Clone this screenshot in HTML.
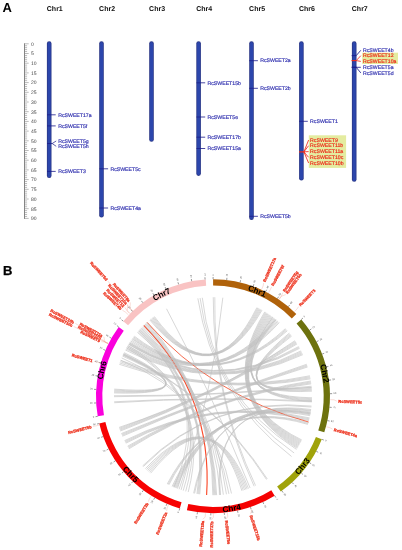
<!DOCTYPE html>
<html><head><meta charset="utf-8"><style>
html,body{margin:0;padding:0;background:#fff;}
svg{display:block;font-family:"Liberation Sans",Arial,sans-serif;text-rendering:geometricPrecision;}
</style></head><body>
<svg width="402" height="550" viewBox="0 0 402 550">
<text x="2.4" y="11.9" font-size="13" font-weight="bold" fill="#000">A</text>
<text x="46.8" y="11.3" font-size="7" font-weight="bold" fill="#111">Chr1</text>
<line x1="49.2" y1="43.599999999999994" x2="49.2" y2="175.748" stroke="#2b3888" stroke-width="4.6" stroke-linecap="round"/>
<line x1="49.2" y1="43.599999999999994" x2="49.2" y2="175.748" stroke="#2c46ac" stroke-width="3.0" stroke-linecap="round"/>
<text x="99.1" y="11.3" font-size="7" font-weight="bold" fill="#111">Chr2</text>
<line x1="101.5" y1="43.599999999999994" x2="101.5" y2="215.13" stroke="#2b3888" stroke-width="4.6" stroke-linecap="round"/>
<line x1="101.5" y1="43.599999999999994" x2="101.5" y2="215.13" stroke="#2c46ac" stroke-width="3.0" stroke-linecap="round"/>
<text x="149.1" y="11.3" font-size="7" font-weight="bold" fill="#111">Chr3</text>
<line x1="151.5" y1="43.599999999999994" x2="151.5" y2="139.46999999999997" stroke="#2b3888" stroke-width="4.6" stroke-linecap="round"/>
<line x1="151.5" y1="43.599999999999994" x2="151.5" y2="139.46999999999997" stroke="#2c46ac" stroke-width="3.0" stroke-linecap="round"/>
<text x="196.2" y="11.3" font-size="7" font-weight="bold" fill="#111">Chr4</text>
<line x1="198.6" y1="43.599999999999994" x2="198.6" y2="173.61399999999998" stroke="#2b3888" stroke-width="4.6" stroke-linecap="round"/>
<line x1="198.6" y1="43.599999999999994" x2="198.6" y2="173.61399999999998" stroke="#2c46ac" stroke-width="3.0" stroke-linecap="round"/>
<text x="249.1" y="11.3" font-size="7" font-weight="bold" fill="#111">Chr5</text>
<line x1="251.5" y1="43.599999999999994" x2="251.5" y2="217.652" stroke="#2b3888" stroke-width="4.6" stroke-linecap="round"/>
<line x1="251.5" y1="43.599999999999994" x2="251.5" y2="217.652" stroke="#2c46ac" stroke-width="3.0" stroke-linecap="round"/>
<text x="299.0" y="11.3" font-size="7" font-weight="bold" fill="#111">Chr6</text>
<line x1="301.4" y1="43.599999999999994" x2="301.4" y2="178.26999999999998" stroke="#2b3888" stroke-width="4.6" stroke-linecap="round"/>
<line x1="301.4" y1="43.599999999999994" x2="301.4" y2="178.26999999999998" stroke="#2c46ac" stroke-width="3.0" stroke-linecap="round"/>
<text x="351.8" y="11.3" font-size="7" font-weight="bold" fill="#111">Chr7</text>
<line x1="354.2" y1="43.599999999999994" x2="354.2" y2="179.43399999999997" stroke="#2b3888" stroke-width="4.6" stroke-linecap="round"/>
<line x1="354.2" y1="43.599999999999994" x2="354.2" y2="179.43399999999997" stroke="#2c46ac" stroke-width="3.0" stroke-linecap="round"/>
<line x1="24.5" y1="43.3" x2="24.5" y2="218.89999999999998" stroke="#707070" stroke-width="0.85"/>
<line x1="24.5" y1="43.80" x2="28.7" y2="43.80" stroke="#808080" stroke-width="0.55"/>
<text x="31" y="45.60" font-size="5" fill="#444">0</text>
<line x1="24.5" y1="45.74" x2="27.1" y2="45.74" stroke="#808080" stroke-width="0.55"/>
<line x1="24.5" y1="47.68" x2="27.1" y2="47.68" stroke="#808080" stroke-width="0.55"/>
<line x1="24.5" y1="49.62" x2="27.1" y2="49.62" stroke="#808080" stroke-width="0.55"/>
<line x1="24.5" y1="51.56" x2="27.1" y2="51.56" stroke="#808080" stroke-width="0.55"/>
<line x1="24.5" y1="53.50" x2="28.7" y2="53.50" stroke="#808080" stroke-width="0.55"/>
<text x="31" y="55.30" font-size="5" fill="#444">5</text>
<line x1="24.5" y1="55.44" x2="27.1" y2="55.44" stroke="#808080" stroke-width="0.55"/>
<line x1="24.5" y1="57.38" x2="27.1" y2="57.38" stroke="#808080" stroke-width="0.55"/>
<line x1="24.5" y1="59.32" x2="27.1" y2="59.32" stroke="#808080" stroke-width="0.55"/>
<line x1="24.5" y1="61.26" x2="27.1" y2="61.26" stroke="#808080" stroke-width="0.55"/>
<line x1="24.5" y1="63.20" x2="28.7" y2="63.20" stroke="#808080" stroke-width="0.55"/>
<text x="31" y="65.00" font-size="5" fill="#444">10</text>
<line x1="24.5" y1="65.14" x2="27.1" y2="65.14" stroke="#808080" stroke-width="0.55"/>
<line x1="24.5" y1="67.08" x2="27.1" y2="67.08" stroke="#808080" stroke-width="0.55"/>
<line x1="24.5" y1="69.02" x2="27.1" y2="69.02" stroke="#808080" stroke-width="0.55"/>
<line x1="24.5" y1="70.96" x2="27.1" y2="70.96" stroke="#808080" stroke-width="0.55"/>
<line x1="24.5" y1="72.90" x2="28.7" y2="72.90" stroke="#808080" stroke-width="0.55"/>
<text x="31" y="74.70" font-size="5" fill="#444">15</text>
<line x1="24.5" y1="74.84" x2="27.1" y2="74.84" stroke="#808080" stroke-width="0.55"/>
<line x1="24.5" y1="76.78" x2="27.1" y2="76.78" stroke="#808080" stroke-width="0.55"/>
<line x1="24.5" y1="78.72" x2="27.1" y2="78.72" stroke="#808080" stroke-width="0.55"/>
<line x1="24.5" y1="80.66" x2="27.1" y2="80.66" stroke="#808080" stroke-width="0.55"/>
<line x1="24.5" y1="82.60" x2="28.7" y2="82.60" stroke="#808080" stroke-width="0.55"/>
<text x="31" y="84.40" font-size="5" fill="#444">20</text>
<line x1="24.5" y1="84.54" x2="27.1" y2="84.54" stroke="#808080" stroke-width="0.55"/>
<line x1="24.5" y1="86.48" x2="27.1" y2="86.48" stroke="#808080" stroke-width="0.55"/>
<line x1="24.5" y1="88.42" x2="27.1" y2="88.42" stroke="#808080" stroke-width="0.55"/>
<line x1="24.5" y1="90.36" x2="27.1" y2="90.36" stroke="#808080" stroke-width="0.55"/>
<line x1="24.5" y1="92.30" x2="28.7" y2="92.30" stroke="#808080" stroke-width="0.55"/>
<text x="31" y="94.10" font-size="5" fill="#444">25</text>
<line x1="24.5" y1="94.24" x2="27.1" y2="94.24" stroke="#808080" stroke-width="0.55"/>
<line x1="24.5" y1="96.18" x2="27.1" y2="96.18" stroke="#808080" stroke-width="0.55"/>
<line x1="24.5" y1="98.12" x2="27.1" y2="98.12" stroke="#808080" stroke-width="0.55"/>
<line x1="24.5" y1="100.06" x2="27.1" y2="100.06" stroke="#808080" stroke-width="0.55"/>
<line x1="24.5" y1="102.00" x2="28.7" y2="102.00" stroke="#808080" stroke-width="0.55"/>
<text x="31" y="103.80" font-size="5" fill="#444">30</text>
<line x1="24.5" y1="103.94" x2="27.1" y2="103.94" stroke="#808080" stroke-width="0.55"/>
<line x1="24.5" y1="105.88" x2="27.1" y2="105.88" stroke="#808080" stroke-width="0.55"/>
<line x1="24.5" y1="107.82" x2="27.1" y2="107.82" stroke="#808080" stroke-width="0.55"/>
<line x1="24.5" y1="109.76" x2="27.1" y2="109.76" stroke="#808080" stroke-width="0.55"/>
<line x1="24.5" y1="111.70" x2="28.7" y2="111.70" stroke="#808080" stroke-width="0.55"/>
<text x="31" y="113.50" font-size="5" fill="#444">35</text>
<line x1="24.5" y1="113.64" x2="27.1" y2="113.64" stroke="#808080" stroke-width="0.55"/>
<line x1="24.5" y1="115.58" x2="27.1" y2="115.58" stroke="#808080" stroke-width="0.55"/>
<line x1="24.5" y1="117.52" x2="27.1" y2="117.52" stroke="#808080" stroke-width="0.55"/>
<line x1="24.5" y1="119.46" x2="27.1" y2="119.46" stroke="#808080" stroke-width="0.55"/>
<line x1="24.5" y1="121.40" x2="28.7" y2="121.40" stroke="#808080" stroke-width="0.55"/>
<text x="31" y="123.20" font-size="5" fill="#444">40</text>
<line x1="24.5" y1="123.34" x2="27.1" y2="123.34" stroke="#808080" stroke-width="0.55"/>
<line x1="24.5" y1="125.28" x2="27.1" y2="125.28" stroke="#808080" stroke-width="0.55"/>
<line x1="24.5" y1="127.22" x2="27.1" y2="127.22" stroke="#808080" stroke-width="0.55"/>
<line x1="24.5" y1="129.16" x2="27.1" y2="129.16" stroke="#808080" stroke-width="0.55"/>
<line x1="24.5" y1="131.10" x2="28.7" y2="131.10" stroke="#808080" stroke-width="0.55"/>
<text x="31" y="132.90" font-size="5" fill="#444">45</text>
<line x1="24.5" y1="133.04" x2="27.1" y2="133.04" stroke="#808080" stroke-width="0.55"/>
<line x1="24.5" y1="134.98" x2="27.1" y2="134.98" stroke="#808080" stroke-width="0.55"/>
<line x1="24.5" y1="136.92" x2="27.1" y2="136.92" stroke="#808080" stroke-width="0.55"/>
<line x1="24.5" y1="138.86" x2="27.1" y2="138.86" stroke="#808080" stroke-width="0.55"/>
<line x1="24.5" y1="140.80" x2="28.7" y2="140.80" stroke="#808080" stroke-width="0.55"/>
<text x="31" y="142.60" font-size="5" fill="#444">50</text>
<line x1="24.5" y1="142.74" x2="27.1" y2="142.74" stroke="#808080" stroke-width="0.55"/>
<line x1="24.5" y1="144.68" x2="27.1" y2="144.68" stroke="#808080" stroke-width="0.55"/>
<line x1="24.5" y1="146.62" x2="27.1" y2="146.62" stroke="#808080" stroke-width="0.55"/>
<line x1="24.5" y1="148.56" x2="27.1" y2="148.56" stroke="#808080" stroke-width="0.55"/>
<line x1="24.5" y1="150.50" x2="28.7" y2="150.50" stroke="#808080" stroke-width="0.55"/>
<text x="31" y="152.30" font-size="5" fill="#444">55</text>
<line x1="24.5" y1="152.44" x2="27.1" y2="152.44" stroke="#808080" stroke-width="0.55"/>
<line x1="24.5" y1="154.38" x2="27.1" y2="154.38" stroke="#808080" stroke-width="0.55"/>
<line x1="24.5" y1="156.32" x2="27.1" y2="156.32" stroke="#808080" stroke-width="0.55"/>
<line x1="24.5" y1="158.26" x2="27.1" y2="158.26" stroke="#808080" stroke-width="0.55"/>
<line x1="24.5" y1="160.20" x2="28.7" y2="160.20" stroke="#808080" stroke-width="0.55"/>
<text x="31" y="162.00" font-size="5" fill="#444">60</text>
<line x1="24.5" y1="162.14" x2="27.1" y2="162.14" stroke="#808080" stroke-width="0.55"/>
<line x1="24.5" y1="164.08" x2="27.1" y2="164.08" stroke="#808080" stroke-width="0.55"/>
<line x1="24.5" y1="166.02" x2="27.1" y2="166.02" stroke="#808080" stroke-width="0.55"/>
<line x1="24.5" y1="167.96" x2="27.1" y2="167.96" stroke="#808080" stroke-width="0.55"/>
<line x1="24.5" y1="169.90" x2="28.7" y2="169.90" stroke="#808080" stroke-width="0.55"/>
<text x="31" y="171.70" font-size="5" fill="#444">65</text>
<line x1="24.5" y1="171.84" x2="27.1" y2="171.84" stroke="#808080" stroke-width="0.55"/>
<line x1="24.5" y1="173.78" x2="27.1" y2="173.78" stroke="#808080" stroke-width="0.55"/>
<line x1="24.5" y1="175.72" x2="27.1" y2="175.72" stroke="#808080" stroke-width="0.55"/>
<line x1="24.5" y1="177.66" x2="27.1" y2="177.66" stroke="#808080" stroke-width="0.55"/>
<line x1="24.5" y1="179.60" x2="28.7" y2="179.60" stroke="#808080" stroke-width="0.55"/>
<text x="31" y="181.40" font-size="5" fill="#444">70</text>
<line x1="24.5" y1="181.54" x2="27.1" y2="181.54" stroke="#808080" stroke-width="0.55"/>
<line x1="24.5" y1="183.48" x2="27.1" y2="183.48" stroke="#808080" stroke-width="0.55"/>
<line x1="24.5" y1="185.42" x2="27.1" y2="185.42" stroke="#808080" stroke-width="0.55"/>
<line x1="24.5" y1="187.36" x2="27.1" y2="187.36" stroke="#808080" stroke-width="0.55"/>
<line x1="24.5" y1="189.30" x2="28.7" y2="189.30" stroke="#808080" stroke-width="0.55"/>
<text x="31" y="191.10" font-size="5" fill="#444">75</text>
<line x1="24.5" y1="191.24" x2="27.1" y2="191.24" stroke="#808080" stroke-width="0.55"/>
<line x1="24.5" y1="193.18" x2="27.1" y2="193.18" stroke="#808080" stroke-width="0.55"/>
<line x1="24.5" y1="195.12" x2="27.1" y2="195.12" stroke="#808080" stroke-width="0.55"/>
<line x1="24.5" y1="197.06" x2="27.1" y2="197.06" stroke="#808080" stroke-width="0.55"/>
<line x1="24.5" y1="199.00" x2="28.7" y2="199.00" stroke="#808080" stroke-width="0.55"/>
<text x="31" y="200.80" font-size="5" fill="#444">80</text>
<line x1="24.5" y1="200.94" x2="27.1" y2="200.94" stroke="#808080" stroke-width="0.55"/>
<line x1="24.5" y1="202.88" x2="27.1" y2="202.88" stroke="#808080" stroke-width="0.55"/>
<line x1="24.5" y1="204.82" x2="27.1" y2="204.82" stroke="#808080" stroke-width="0.55"/>
<line x1="24.5" y1="206.76" x2="27.1" y2="206.76" stroke="#808080" stroke-width="0.55"/>
<line x1="24.5" y1="208.70" x2="28.7" y2="208.70" stroke="#808080" stroke-width="0.55"/>
<text x="31" y="210.50" font-size="5" fill="#444">85</text>
<line x1="24.5" y1="210.64" x2="27.1" y2="210.64" stroke="#808080" stroke-width="0.55"/>
<line x1="24.5" y1="212.58" x2="27.1" y2="212.58" stroke="#808080" stroke-width="0.55"/>
<line x1="24.5" y1="214.52" x2="27.1" y2="214.52" stroke="#808080" stroke-width="0.55"/>
<line x1="24.5" y1="216.46" x2="27.1" y2="216.46" stroke="#808080" stroke-width="0.55"/>
<line x1="24.5" y1="218.40" x2="28.7" y2="218.40" stroke="#808080" stroke-width="0.55"/>
<text x="31" y="220.20" font-size="5" fill="#444">90</text>
<line x1="47.0" y1="114.8" x2="55.7" y2="114.8" stroke="#1c1c8a" stroke-width="0.8"/>
<text x="58.2" y="116.55" font-size="5.2" fill="#3434b0" stroke="#3434b0" stroke-width="0.18">RcSWEET17a</text>
<line x1="47.0" y1="125.9" x2="55.7" y2="125.9" stroke="#1c1c8a" stroke-width="0.8"/>
<text x="58.2" y="127.65" font-size="5.2" fill="#3434b0" stroke="#3434b0" stroke-width="0.18">RcSWEET5f</text>
<line x1="47.0" y1="171.4" x2="55.7" y2="171.4" stroke="#1c1c8a" stroke-width="0.8"/>
<text x="58.2" y="173.15" font-size="5.2" fill="#3434b0" stroke="#3434b0" stroke-width="0.18">RcSWEET3</text>
<line x1="47.0" y1="143.5" x2="52.2" y2="143.5" stroke="#1c1c8a" stroke-width="0.8"/>
<polyline points="52.2,143.5 56.2,141" fill="none" stroke="#1c1c8a" stroke-width="0.7"/>
<polyline points="52.2,143.5 56.2,146.3" fill="none" stroke="#1c1c8a" stroke-width="0.7"/>
<text x="58.2" y="142.75" font-size="5.2" fill="#3434b0" stroke="#3434b0" stroke-width="0.18">RcSWEET5g</text>
<text x="58.2" y="148.15" font-size="5.2" fill="#3434b0" stroke="#3434b0" stroke-width="0.18">RcSWEET5h</text>
<line x1="99.39999999999999" y1="168.8" x2="108.1" y2="168.8" stroke="#1c1c8a" stroke-width="0.8"/>
<text x="110.4" y="170.55" font-size="5.2" fill="#3434b0" stroke="#3434b0" stroke-width="0.18">RcSWEET5c</text>
<line x1="99.39999999999999" y1="208" x2="108.1" y2="208" stroke="#1c1c8a" stroke-width="0.8"/>
<text x="110.4" y="209.75" font-size="5.2" fill="#3434b0" stroke="#3434b0" stroke-width="0.18">RcSWEET4a</text>
<line x1="196.5" y1="82.8" x2="205.2" y2="82.8" stroke="#1c1c8a" stroke-width="0.8"/>
<text x="207.5" y="84.55" font-size="5.2" fill="#3434b0" stroke="#3434b0" stroke-width="0.18">RcSWEET15b</text>
<line x1="196.5" y1="117" x2="205.2" y2="117" stroke="#1c1c8a" stroke-width="0.8"/>
<text x="207.5" y="118.75" font-size="5.2" fill="#3434b0" stroke="#3434b0" stroke-width="0.18">RcSWEET5e</text>
<line x1="196.5" y1="137.2" x2="205.2" y2="137.2" stroke="#1c1c8a" stroke-width="0.8"/>
<text x="207.5" y="138.95" font-size="5.2" fill="#3434b0" stroke="#3434b0" stroke-width="0.18">RcSWEET17b</text>
<line x1="196.5" y1="148.5" x2="205.2" y2="148.5" stroke="#1c1c8a" stroke-width="0.8"/>
<text x="207.5" y="150.25" font-size="5.2" fill="#3434b0" stroke="#3434b0" stroke-width="0.18">RcSWEET15a</text>
<line x1="249.20000000000002" y1="60.7" x2="257.9" y2="60.7" stroke="#1c1c8a" stroke-width="0.8"/>
<text x="260.2" y="62.45" font-size="5.2" fill="#3434b0" stroke="#3434b0" stroke-width="0.18">RcSWEET2a</text>
<line x1="249.20000000000002" y1="88.3" x2="257.9" y2="88.3" stroke="#1c1c8a" stroke-width="0.8"/>
<text x="260.2" y="90.05" font-size="5.2" fill="#3434b0" stroke="#3434b0" stroke-width="0.18">RcSWEET2b</text>
<line x1="249.20000000000002" y1="216.3" x2="257.9" y2="216.3" stroke="#1c1c8a" stroke-width="0.8"/>
<text x="260.2" y="218.05" font-size="5.2" fill="#3434b0" stroke="#3434b0" stroke-width="0.18">RcSWEET5b</text>
<line x1="299.1" y1="121.3" x2="307.8" y2="121.3" stroke="#1c1c8a" stroke-width="0.8"/>
<text x="310.1" y="123.05" font-size="5.2" fill="#3434b0" stroke="#3434b0" stroke-width="0.18">RcSWEET1</text>
<rect x="308.8" y="135.3" width="37.3" height="32.6" fill="#e4eca0"/>
<line x1="299.0" y1="151.9" x2="304.3" y2="151.9" stroke="#ee2a1a" stroke-width="1.2"/>
<line x1="303.90000000000003" y1="151.9" x2="308.6" y2="140" stroke="#ee2a1a" stroke-width="0.85"/>
<text x="310.1" y="141.75" font-size="5.2" fill="#ee2a1a" stroke="#ee2a1a" stroke-width="0.18">RcSWEET9</text>
<line x1="303.90000000000003" y1="151.9" x2="308.6" y2="145.7" stroke="#ee2a1a" stroke-width="0.85"/>
<text x="310.1" y="147.45" font-size="5.2" fill="#ee2a1a" stroke="#ee2a1a" stroke-width="0.18">RcSWEET11b</text>
<line x1="303.90000000000003" y1="151.9" x2="308.6" y2="151.6" stroke="#ee2a1a" stroke-width="0.85"/>
<text x="310.1" y="153.35" font-size="5.2" fill="#ee2a1a" stroke="#ee2a1a" stroke-width="0.18">RcSWEET11a</text>
<line x1="303.90000000000003" y1="151.9" x2="308.6" y2="157.3" stroke="#ee2a1a" stroke-width="0.85"/>
<text x="310.1" y="159.05" font-size="5.2" fill="#ee2a1a" stroke="#ee2a1a" stroke-width="0.18">RcSWEET10c</text>
<line x1="303.90000000000003" y1="151.9" x2="308.6" y2="163" stroke="#ee2a1a" stroke-width="0.85"/>
<text x="310.1" y="164.75" font-size="5.2" fill="#ee2a1a" stroke="#ee2a1a" stroke-width="0.18">RcSWEET10b</text>
<rect x="362.2" y="52.7" width="35.8" height="11.3" fill="#e4eca0"/>
<line x1="351.7" y1="55.6" x2="356.3" y2="55.6" stroke="#1c1c8a" stroke-width="0.9"/>
<line x1="356.2" y1="55.6" x2="360.8" y2="50.3" stroke="#1c1c8a" stroke-width="0.85"/>
<text x="363.0" y="52.05" font-size="5.2" fill="#3434b0" stroke="#3434b0" stroke-width="0.18">RcSWEET4b</text>
<line x1="351.7" y1="60.6" x2="356.3" y2="60.6" stroke="#ee2a1a" stroke-width="0.9"/>
<line x1="356.2" y1="60.6" x2="360.8" y2="55.7" stroke="#ee2a1a" stroke-width="0.85"/>
<text x="363.0" y="57.45" font-size="5.2" fill="#ee2a1a" stroke="#ee2a1a" stroke-width="0.18">RcSWEET12</text>
<line x1="351.7" y1="60.6" x2="356.3" y2="60.6" stroke="#ee2a1a" stroke-width="0.9"/>
<line x1="356.2" y1="60.6" x2="360.8" y2="61.4" stroke="#ee2a1a" stroke-width="0.85"/>
<text x="363.0" y="63.15" font-size="5.2" fill="#ee2a1a" stroke="#ee2a1a" stroke-width="0.18">RcSWEET10a</text>
<line x1="351.7" y1="67.3" x2="356.3" y2="67.3" stroke="#1c1c8a" stroke-width="0.9"/>
<line x1="356.2" y1="67.3" x2="360.8" y2="67.3" stroke="#1c1c8a" stroke-width="0.85"/>
<text x="363.0" y="69.05" font-size="5.2" fill="#3434b0" stroke="#3434b0" stroke-width="0.18">RcSWEET5a</text>
<line x1="351.7" y1="67.3" x2="356.3" y2="67.3" stroke="#1c1c8a" stroke-width="0.9"/>
<line x1="356.2" y1="67.3" x2="360.8" y2="72.9" stroke="#1c1c8a" stroke-width="0.85"/>
<text x="363.0" y="74.65" font-size="5.2" fill="#3434b0" stroke="#3434b0" stroke-width="0.18">RcSWEET5d</text>
<text x="3.0" y="274.7" font-size="13" font-weight="bold" fill="#000" stroke="#000" stroke-width="0.3">B</text>
<g fill="none" stroke="#c0c0c0" stroke-width="0.62"><path d="M139.05,330.37 Q213.00,396.20 196.96,493.89"/><path d="M140.33,328.97 Q213.00,396.20 198.84,494.18"/><path d="M140.98,328.27 Q213.00,396.20 199.78,494.31"/><path d="M145.17,324.09 Q213.00,396.20 213.78,495.20"/><path d="M145.86,323.44 Q213.00,396.20 214.73,495.18"/><path d="M147.27,322.17 Q213.00,396.20 216.63,495.13"/><path d="M149.83,319.97 Q213.00,396.20 261.98,310.16"/><path d="M151.30,318.78 Q213.00,396.20 260.31,309.24"/><path d="M152.05,318.19 Q213.00,396.20 259.48,308.79"/><path d="M153.56,317.03 Q213.00,396.20 257.79,307.91"/><path d="M154.32,316.46 Q213.00,396.20 256.94,307.49"/><path d="M197.85,298.37 Q213.00,396.20 291.54,456.47"/><path d="M200.08,298.05 Q213.00,396.20 294.10,452.98"/><path d="M213.26,297.20 Q213.00,396.20 254.13,486.25"/><path d="M214.81,297.22 Q213.00,396.20 255.54,485.59"/><path d="M264.80,311.83 Q213.00,396.20 297.18,448.30"/><path d="M265.61,312.33 Q213.00,396.20 297.68,447.48"/><path d="M267.21,313.36 Q213.00,396.20 298.65,445.85"/><path d="M268.00,313.88 Q213.00,396.20 299.12,445.03"/><path d="M269.57,314.96 Q213.00,396.20 300.04,443.36"/><path d="M270.35,315.50 Q213.00,396.20 300.49,442.53"/><path d="M271.89,316.62 Q213.00,396.20 301.37,440.84"/><path d="M272.65,317.19 Q213.00,396.20 301.79,439.99"/><path d="M276.10,319.92 Q213.00,396.20 131.46,340.05"/><path d="M276.90,320.58 Q213.00,396.20 130.78,341.05"/><path d="M278.47,321.94 Q213.00,396.20 129.46,343.08"/><path d="M279.24,322.63 Q213.00,396.20 128.82,344.10"/><path d="M289.88,333.83 Q213.00,396.20 311.82,390.24"/><path d="M290.48,334.57 Q213.00,396.20 311.76,389.29"/><path d="M291.65,336.07 Q213.00,396.20 311.61,387.40"/><path d="M272.86,317.34 Q213.00,396.20 311.86,401.55"/><path d="M274.36,318.51 Q213.00,396.20 311.94,399.66"/><path d="M275.10,319.10 Q213.00,396.20 311.97,398.71"/><path d="M285.37,328.65 Q213.00,396.20 134.27,336.17"/><path d="M286.02,329.35 Q213.00,396.20 133.70,336.93"/><path d="M287.29,330.76 Q213.00,396.20 132.58,338.46"/><path d="M298.69,346.63 Q213.00,396.20 129.55,342.93"/><path d="M299.63,348.28 Q213.00,396.20 128.54,344.55"/><path d="M294.98,340.70 Q213.00,396.20 119.06,427.45"/><path d="M296.03,342.28 Q213.00,396.20 119.68,429.25"/><path d="M296.54,343.08 Q213.00,396.20 120.00,430.14"/><path d="M301.05,350.95 Q213.00,396.20 127.79,345.80"/><path d="M301.52,351.87 Q213.00,396.20 127.18,346.85"/><path d="M302.43,353.74 Q213.00,396.20 126.00,348.96"/><path d="M302.87,354.67 Q213.00,396.20 125.43,350.03"/><path d="M307.01,365.16 Q213.00,396.20 121.69,434.44"/><path d="M307.30,366.06 Q213.00,396.20 122.06,435.32"/><path d="M309.87,375.79 Q213.00,396.20 120.70,360.40"/><path d="M310.08,376.80 Q213.00,396.20 120.21,361.69"/><path d="M310.47,378.84 Q213.00,396.20 119.28,364.30"/><path d="M311.50,386.24 Q213.00,396.20 114.00,395.72"/><path d="M311.89,400.91 Q213.00,396.20 114.16,401.77"/><path d="M311.84,401.86 Q213.00,396.20 114.21,402.72"/><path d="M311.41,407.02 Q213.00,396.20 143.33,466.54"/><path d="M310.88,411.05 Q213.00,396.20 172.14,486.38"/><path d="M310.58,412.92 Q213.00,396.20 173.88,487.14"/><path d="M310.41,413.86 Q213.00,396.20 174.76,487.51"/><path d="M310.06,415.73 Q213.00,396.20 176.52,488.23"/><path d="M137.38,332.30 Q213.00,396.20 174.00,487.19"/><path d="M138.74,330.73 Q213.00,396.20 181.10,489.92"/><path d="M141.43,327.80 Q213.00,396.20 220.25,494.93"/><path d="M143.36,325.83 Q213.00,396.20 226.44,494.28"/><path d="M188.21,492.05 Q213.00,396.20 127.96,345.51"/><path d="M183.23,490.62 Q213.00,396.20 126.58,347.90"/><path d="M231.47,493.46 Q213.00,396.20 121.70,357.92"/><path d="M248.48,488.62 Q213.00,396.20 145.48,468.60"/><path d="M247.18,489.11 Q213.00,396.20 146.50,469.54"/><path d="M244.58,490.03 Q213.00,396.20 148.57,471.37"/><path d="M243.26,490.46 Q213.00,396.20 149.63,472.26"/><path d="M220.38,494.92 Q213.00,396.20 310.41,413.86"/><path d="M219.43,494.99 Q213.00,396.20 310.58,412.92"/><path d="M193.64,493.29 Q213.00,396.20 311.10,409.51"/><path d="M168.90,484.84 Q213.00,396.20 307.90,424.40"/><path d="M167.21,483.97 Q213.00,396.20 308.42,422.57"/><path d="M125.85,443.17 Q213.00,396.20 308.92,420.69"/><path d="M124.97,441.49 Q213.00,396.20 309.37,418.85"/><path d="M124.54,440.64 Q213.00,396.20 309.59,417.92"/><path d="M128.57,447.89 Q213.00,396.20 311.10,382.89"/><path d="M128.07,447.08 Q213.00,396.20 310.97,381.95"/><path d="M114.05,392.92 Q213.00,396.20 124.10,352.65"/><path d="M114.09,391.97 Q213.00,396.20 123.68,353.50"/><path d="M114.19,390.07 Q213.00,396.20 122.88,355.22"/><path d="M114.25,389.12 Q213.00,396.20 122.49,356.09"/><path d="M123.48,353.93 Q213.00,396.20 267.32,478.97"/></g>
<path d="M143.86,325.35 Q213.00,396.20 206.61,494.99" fill="none" stroke="#fa4a2a" stroke-width="1.15"/>
<path d="M147.01,322.40 Q213.00,396.20 308.58,421.99" fill="none" stroke="#f45a3a" stroke-width="0.9"/>
<g fill="none" stroke="#c0c0c0" stroke-width="0.62"><path d="M139.69,329.67 Q213.00,396.20 197.90,494.04"/><path d="M144.48,324.75 Q213.00,396.20 212.83,495.20"/><path d="M146.56,322.80 Q213.00,396.20 215.68,495.16"/><path d="M150.56,319.37 Q213.00,396.20 261.15,309.70"/><path d="M152.80,317.61 Q213.00,396.20 258.64,308.35"/><path d="M166.52,308.79 Q213.00,396.20 250.09,487.99"/><path d="M202.31,297.78 Q213.00,396.20 296.50,449.39"/><path d="M222.83,297.69 Q213.00,396.20 179.14,489.23"/><path d="M266.41,312.84 Q213.00,396.20 298.17,446.67"/><path d="M268.79,314.42 Q213.00,396.20 299.59,444.20"/><path d="M271.12,316.06 Q213.00,396.20 300.93,441.68"/><path d="M275.30,319.26 Q213.00,396.20 132.15,339.06"/><path d="M277.69,321.26 Q213.00,396.20 130.11,342.06"/><path d="M289.28,333.10 Q213.00,396.20 311.87,391.19"/><path d="M291.07,335.32 Q213.00,396.20 311.69,388.35"/><path d="M273.61,317.92 Q213.00,396.20 311.90,400.60"/><path d="M275.84,319.70 Q213.00,396.20 311.99,397.76"/><path d="M286.66,330.05 Q213.00,396.20 133.14,337.70"/><path d="M299.17,347.45 Q213.00,396.20 129.04,343.74"/><path d="M295.51,341.49 Q213.00,396.20 119.37,428.35"/><path d="M297.05,343.88 Q213.00,396.20 120.33,431.03"/><path d="M301.98,352.80 Q213.00,396.20 126.58,347.90"/><path d="M306.70,364.25 Q213.00,396.20 121.32,433.57"/><path d="M307.59,366.97 Q213.00,396.20 122.44,436.19"/><path d="M310.28,377.82 Q213.00,396.20 119.74,362.99"/><path d="M311.59,387.18 Q213.00,396.20 114.00,396.68"/><path d="M311.51,406.08 Q213.00,396.20 142.66,465.87"/><path d="M310.73,411.99 Q213.00,396.20 173.01,486.76"/><path d="M310.24,414.79 Q213.00,396.20 175.63,487.88"/><path d="M138.06,331.51 Q213.00,396.20 177.52,488.62"/><path d="M142.39,326.81 Q213.00,396.20 223.35,494.66"/><path d="M185.71,491.36 Q213.00,396.20 127.26,346.70"/><path d="M228.91,493.91 Q213.00,396.20 120.73,360.32"/><path d="M245.88,489.58 Q213.00,396.20 147.53,470.46"/><path d="M241.94,490.87 Q213.00,396.20 150.70,473.14"/><path d="M194.58,493.47 Q213.00,396.20 310.97,410.45"/><path d="M168.05,484.41 Q213.00,396.20 308.16,423.49"/><path d="M125.41,442.33 Q213.00,396.20 309.15,419.77"/><path d="M129.07,448.70 Q213.00,396.20 311.22,383.83"/><path d="M127.59,446.26 Q213.00,396.20 310.83,381.01"/><path d="M114.14,391.02 Q213.00,396.20 123.28,354.36"/><path d="M123.08,354.79 Q213.00,396.20 266.52,479.49"/></g>
<path d="M213.10,279.20 A117.0,117.0 0 0 1 296.31,314.05 L291.82,318.47 A110.7,110.7 0 0 0 213.10,285.50 Z" fill="#b0620a"/>
<path d="M301.30,319.44 A117.0,117.0 0 0 1 324.27,432.35 L318.28,430.41 A110.7,110.7 0 0 0 296.55,323.57 Z" fill="#6d720e"/>
<path d="M321.78,439.27 A117.0,117.0 0 0 1 280.78,491.57 L277.13,486.43 A110.7,110.7 0 0 0 315.93,436.95 Z" fill="#a0a30a"/>
<path d="M274.65,495.64 A117.0,117.0 0 0 1 186.88,510.25 L188.29,504.11 A110.7,110.7 0 0 0 271.33,490.28 Z" fill="#f50202"/>
<path d="M179.77,508.38 A117.0,117.0 0 0 1 99.23,423.51 L105.36,422.04 A110.7,110.7 0 0 0 181.56,502.34 Z" fill="#f70202"/>
<path d="M97.74,416.32 A117.0,117.0 0 0 1 118.71,326.93 L123.78,330.66 A110.7,110.7 0 0 0 103.95,415.23 Z" fill="#fa00dc"/>
<path d="M123.24,321.15 A117.0,117.0 0 0 1 205.76,279.42 L206.15,285.71 A110.7,110.7 0 0 0 128.07,325.19 Z" fill="#f9c3c3"/>
<line x1="213.10" y1="279.20" x2="213.10" y2="277.00" stroke="#333" stroke-width="0.5"/>
<text x="213.11" y="275.60" font-size="2.4" fill="#555" text-anchor="start" dominant-baseline="central" transform="rotate(-90.0 213.11 275.60)">0</text>
<line x1="226.69" y1="280.00" x2="226.95" y2="277.82" stroke="#333" stroke-width="0.5"/>
<text x="227.11" y="276.43" font-size="2.4" fill="#555" text-anchor="start" dominant-baseline="central" transform="rotate(-83.3 227.11 276.43)">10</text>
<line x1="240.09" y1="282.38" x2="240.60" y2="280.24" stroke="#333" stroke-width="0.5"/>
<text x="240.92" y="278.88" font-size="2.4" fill="#555" text-anchor="start" dominant-baseline="central" transform="rotate(-76.6 240.92 278.88)">20</text>
<line x1="253.13" y1="286.30" x2="253.88" y2="284.23" stroke="#333" stroke-width="0.5"/>
<text x="254.36" y="282.91" font-size="2.4" fill="#555" text-anchor="start" dominant-baseline="central" transform="rotate(-69.9 254.36 282.91)">30</text>
<line x1="265.62" y1="291.70" x2="266.61" y2="289.73" stroke="#333" stroke-width="0.5"/>
<text x="267.24" y="288.48" font-size="2.4" fill="#555" text-anchor="start" dominant-baseline="central" transform="rotate(-63.3 267.24 288.48)">40</text>
<line x1="277.40" y1="298.52" x2="278.61" y2="296.68" stroke="#333" stroke-width="0.5"/>
<text x="279.38" y="295.51" font-size="2.4" fill="#555" text-anchor="start" dominant-baseline="central" transform="rotate(-56.6 279.38 295.51)">50</text>
<line x1="288.31" y1="306.66" x2="289.72" y2="304.97" stroke="#333" stroke-width="0.5"/>
<text x="290.62" y="303.90" font-size="2.4" fill="#555" text-anchor="start" dominant-baseline="central" transform="rotate(-49.9 290.62 303.90)">60</text>
<line x1="301.30" y1="319.44" x2="302.96" y2="318.00" stroke="#333" stroke-width="0.5"/>
<text x="304.02" y="317.08" font-size="2.4" fill="#555" text-anchor="start" dominant-baseline="central" transform="rotate(-41.0 304.02 317.08)">0</text>
<line x1="309.57" y1="330.15" x2="311.39" y2="328.91" stroke="#333" stroke-width="0.5"/>
<text x="312.54" y="328.12" font-size="2.4" fill="#555" text-anchor="start" dominant-baseline="central" transform="rotate(-34.4 312.54 328.12)">10</text>
<line x1="316.55" y1="341.74" x2="318.50" y2="340.71" stroke="#333" stroke-width="0.5"/>
<text x="319.74" y="340.06" font-size="2.4" fill="#555" text-anchor="start" dominant-baseline="central" transform="rotate(-27.7 319.74 340.06)">20</text>
<line x1="322.15" y1="354.06" x2="324.20" y2="353.26" stroke="#333" stroke-width="0.5"/>
<text x="325.50" y="352.76" font-size="2.4" fill="#555" text-anchor="start" dominant-baseline="central" transform="rotate(-21.1 325.50 352.76)">30</text>
<line x1="326.28" y1="366.94" x2="328.41" y2="366.39" stroke="#333" stroke-width="0.5"/>
<text x="329.77" y="366.04" font-size="2.4" fill="#555" text-anchor="start" dominant-baseline="central" transform="rotate(-14.5 329.77 366.04)">40</text>
<line x1="328.90" y1="380.21" x2="331.08" y2="379.91" stroke="#333" stroke-width="0.5"/>
<text x="332.47" y="379.72" font-size="2.4" fill="#555" text-anchor="start" dominant-baseline="central" transform="rotate(-7.9 332.47 379.72)">50</text>
<line x1="329.97" y1="393.70" x2="332.17" y2="393.65" stroke="#333" stroke-width="0.5"/>
<text x="333.57" y="393.62" font-size="2.4" fill="#555" text-anchor="start" dominant-baseline="central" transform="rotate(-1.2 333.57 393.62)">60</text>
<line x1="329.48" y1="407.22" x2="331.67" y2="407.43" stroke="#333" stroke-width="0.5"/>
<text x="333.06" y="407.56" font-size="2.4" fill="#555" text-anchor="start" dominant-baseline="central" transform="rotate(5.4 333.06 407.56)">70</text>
<line x1="327.43" y1="420.59" x2="329.58" y2="421.05" stroke="#333" stroke-width="0.5"/>
<text x="330.95" y="421.34" font-size="2.4" fill="#555" text-anchor="start" dominant-baseline="central" transform="rotate(12.0 330.95 421.34)">80</text>
<line x1="321.78" y1="439.27" x2="323.83" y2="440.08" stroke="#333" stroke-width="0.5"/>
<text x="325.13" y="440.60" font-size="2.4" fill="#555" text-anchor="start" dominant-baseline="central" transform="rotate(21.6 325.13 440.60)">0</text>
<line x1="316.24" y1="451.26" x2="318.18" y2="452.29" stroke="#333" stroke-width="0.5"/>
<text x="319.41" y="452.95" font-size="2.4" fill="#555" text-anchor="start" dominant-baseline="central" transform="rotate(28.1 319.41 452.95)">10</text>
<line x1="309.38" y1="462.54" x2="311.19" y2="463.79" stroke="#333" stroke-width="0.5"/>
<text x="312.34" y="464.58" font-size="2.4" fill="#555" text-anchor="start" dominant-baseline="central" transform="rotate(34.5 312.34 464.58)">20</text>
<line x1="301.29" y1="472.98" x2="302.95" y2="474.42" stroke="#333" stroke-width="0.5"/>
<text x="304.00" y="475.34" font-size="2.4" fill="#555" text-anchor="start" dominant-baseline="central" transform="rotate(41.0 304.00 475.34)">30</text>
<line x1="292.07" y1="482.44" x2="293.56" y2="484.06" stroke="#333" stroke-width="0.5"/>
<text x="294.50" y="485.09" font-size="2.4" fill="#555" text-anchor="start" dominant-baseline="central" transform="rotate(47.5 294.50 485.09)">40</text>
<line x1="281.85" y1="490.80" x2="283.14" y2="492.58" stroke="#333" stroke-width="0.5"/>
<text x="283.97" y="493.71" font-size="2.4" fill="#555" text-anchor="start" dominant-baseline="central" transform="rotate(54.0 283.97 493.71)">50</text>
<line x1="274.65" y1="495.64" x2="275.81" y2="497.51" stroke="#333" stroke-width="0.5"/>
<text x="276.55" y="498.70" font-size="2.4" fill="#555" text-anchor="start" dominant-baseline="central" transform="rotate(58.2 276.55 498.70)">0</text>
<line x1="262.87" y1="502.04" x2="263.80" y2="504.03" stroke="#333" stroke-width="0.5"/>
<text x="264.40" y="505.30" font-size="2.4" fill="#555" text-anchor="start" dominant-baseline="central" transform="rotate(64.8 264.40 505.30)">10</text>
<line x1="250.42" y1="507.05" x2="251.12" y2="509.14" stroke="#333" stroke-width="0.5"/>
<text x="251.57" y="510.47" font-size="2.4" fill="#555" text-anchor="start" dominant-baseline="central" transform="rotate(71.3 251.57 510.47)">20</text>
<line x1="237.48" y1="510.61" x2="237.94" y2="512.76" stroke="#333" stroke-width="0.5"/>
<text x="238.24" y="514.13" font-size="2.4" fill="#555" text-anchor="start" dominant-baseline="central" transform="rotate(77.9 238.24 514.13)">30</text>
<line x1="224.23" y1="512.66" x2="224.44" y2="514.85" stroke="#333" stroke-width="0.5"/>
<text x="224.57" y="516.24" font-size="2.4" fill="#555" text-anchor="start" dominant-baseline="central" transform="rotate(84.5 224.57 516.24)">40</text>
<line x1="210.82" y1="513.18" x2="210.78" y2="515.38" stroke="#333" stroke-width="0.5"/>
<text x="210.75" y="516.78" font-size="2.4" fill="#555" text-anchor="end" dominant-baseline="central" transform="rotate(271.1 210.75 516.78)">50</text>
<line x1="197.44" y1="512.16" x2="197.15" y2="514.34" stroke="#333" stroke-width="0.5"/>
<text x="196.96" y="515.73" font-size="2.4" fill="#555" text-anchor="end" dominant-baseline="central" transform="rotate(277.6 196.96 515.73)">60</text>
<line x1="179.77" y1="508.38" x2="179.15" y2="510.49" stroke="#333" stroke-width="0.5"/>
<text x="178.75" y="511.83" font-size="2.4" fill="#555" text-anchor="end" dominant-baseline="central" transform="rotate(286.5 178.75 511.83)">0</text>
<line x1="166.97" y1="503.77" x2="166.11" y2="505.79" stroke="#333" stroke-width="0.5"/>
<text x="165.56" y="507.08" font-size="2.4" fill="#555" text-anchor="end" dominant-baseline="central" transform="rotate(293.2 165.56 507.08)">10</text>
<line x1="154.79" y1="497.69" x2="153.70" y2="499.60" stroke="#333" stroke-width="0.5"/>
<text x="153.00" y="500.82" font-size="2.4" fill="#555" text-anchor="end" dominant-baseline="central" transform="rotate(299.8 153.00 500.82)">20</text>
<line x1="143.41" y1="490.25" x2="142.10" y2="492.02" stroke="#333" stroke-width="0.5"/>
<text x="141.26" y="493.15" font-size="2.4" fill="#555" text-anchor="end" dominant-baseline="central" transform="rotate(306.5 141.26 493.15)">30</text>
<line x1="132.96" y1="481.54" x2="131.45" y2="483.14" stroke="#333" stroke-width="0.5"/>
<text x="130.49" y="484.16" font-size="2.4" fill="#555" text-anchor="end" dominant-baseline="central" transform="rotate(313.2 130.49 484.16)">40</text>
<line x1="123.59" y1="471.67" x2="121.91" y2="473.09" stroke="#333" stroke-width="0.5"/>
<text x="120.84" y="473.99" font-size="2.4" fill="#555" text-anchor="end" dominant-baseline="central" transform="rotate(319.8 120.84 473.99)">50</text>
<line x1="115.44" y1="460.78" x2="113.60" y2="461.99" stroke="#333" stroke-width="0.5"/>
<text x="112.43" y="462.76" font-size="2.4" fill="#555" text-anchor="end" dominant-baseline="central" transform="rotate(326.5 112.43 462.76)">60</text>
<line x1="108.60" y1="449.01" x2="106.64" y2="450.01" stroke="#333" stroke-width="0.5"/>
<text x="105.39" y="450.64" font-size="2.4" fill="#555" text-anchor="end" dominant-baseline="central" transform="rotate(333.2 105.39 450.64)">70</text>
<line x1="103.17" y1="436.54" x2="101.11" y2="437.29" stroke="#333" stroke-width="0.5"/>
<text x="99.79" y="437.78" font-size="2.4" fill="#555" text-anchor="end" dominant-baseline="central" transform="rotate(339.8 99.79 437.78)">80</text>
<line x1="99.23" y1="423.51" x2="97.09" y2="424.03" stroke="#333" stroke-width="0.5"/>
<text x="95.73" y="424.35" font-size="2.4" fill="#555" text-anchor="end" dominant-baseline="central" transform="rotate(346.5 95.73 424.35)">90</text>
<line x1="97.74" y1="416.32" x2="95.57" y2="416.69" stroke="#333" stroke-width="0.5"/>
<text x="94.20" y="416.93" font-size="2.4" fill="#555" text-anchor="end" dominant-baseline="central" transform="rotate(350.1 94.20 416.93)">0</text>
<line x1="96.19" y1="402.93" x2="94.00" y2="403.06" stroke="#333" stroke-width="0.5"/>
<text x="92.60" y="403.14" font-size="2.4" fill="#555" text-anchor="end" dominant-baseline="central" transform="rotate(356.7 92.60 403.14)">10</text>
<line x1="96.19" y1="389.47" x2="94.00" y2="389.34" stroke="#333" stroke-width="0.5"/>
<text x="92.60" y="389.26" font-size="2.4" fill="#555" text-anchor="end" dominant-baseline="central" transform="rotate(363.3 92.60 389.26)">20</text>
<line x1="97.74" y1="376.08" x2="95.57" y2="375.71" stroke="#333" stroke-width="0.5"/>
<text x="94.20" y="375.47" font-size="2.4" fill="#555" text-anchor="end" dominant-baseline="central" transform="rotate(369.9 94.20 375.47)">30</text>
<line x1="100.82" y1="362.97" x2="98.71" y2="362.35" stroke="#333" stroke-width="0.5"/>
<text x="97.37" y="361.95" font-size="2.4" fill="#555" text-anchor="end" dominant-baseline="central" transform="rotate(376.5 97.37 361.95)">40</text>
<line x1="105.38" y1="350.30" x2="103.36" y2="349.43" stroke="#333" stroke-width="0.5"/>
<text x="102.07" y="348.88" font-size="2.4" fill="#555" text-anchor="end" dominant-baseline="central" transform="rotate(383.1 102.07 348.88)">50</text>
<line x1="111.37" y1="338.23" x2="109.46" y2="337.14" stroke="#333" stroke-width="0.5"/>
<text x="108.24" y="336.45" font-size="2.4" fill="#555" text-anchor="end" dominant-baseline="central" transform="rotate(389.7 108.24 336.45)">60</text>
<line x1="118.71" y1="326.93" x2="116.93" y2="325.63" stroke="#333" stroke-width="0.5"/>
<text x="115.81" y="324.80" font-size="2.4" fill="#555" text-anchor="end" dominant-baseline="central" transform="rotate(396.3 115.81 324.80)">70</text>
<line x1="123.24" y1="321.15" x2="121.55" y2="319.74" stroke="#333" stroke-width="0.5"/>
<text x="120.48" y="318.84" font-size="2.4" fill="#555" text-anchor="end" dominant-baseline="central" transform="rotate(399.9 120.48 318.84)">0</text>
<line x1="132.47" y1="311.33" x2="130.95" y2="309.73" stroke="#333" stroke-width="0.5"/>
<text x="129.99" y="308.72" font-size="2.4" fill="#555" text-anchor="end" dominant-baseline="central" transform="rotate(406.5 129.99 308.72)">10</text>
<line x1="142.76" y1="302.63" x2="141.44" y2="300.87" stroke="#333" stroke-width="0.5"/>
<text x="140.60" y="299.75" font-size="2.4" fill="#555" text-anchor="end" dominant-baseline="central" transform="rotate(413.1 140.60 299.75)">20</text>
<line x1="153.99" y1="295.17" x2="152.88" y2="293.27" stroke="#333" stroke-width="0.5"/>
<text x="152.17" y="292.07" font-size="2.4" fill="#555" text-anchor="end" dominant-baseline="central" transform="rotate(419.7 152.17 292.07)">30</text>
<line x1="165.99" y1="289.06" x2="165.11" y2="287.04" stroke="#333" stroke-width="0.5"/>
<text x="164.55" y="285.76" font-size="2.4" fill="#555" text-anchor="end" dominant-baseline="central" transform="rotate(426.3 164.55 285.76)">40</text>
<line x1="178.62" y1="284.36" x2="177.98" y2="282.26" stroke="#333" stroke-width="0.5"/>
<text x="177.57" y="280.92" font-size="2.4" fill="#555" text-anchor="end" dominant-baseline="central" transform="rotate(432.9 177.57 280.92)">50</text>
<line x1="191.71" y1="281.15" x2="191.31" y2="278.99" stroke="#333" stroke-width="0.5"/>
<text x="191.06" y="277.61" font-size="2.4" fill="#555" text-anchor="end" dominant-baseline="central" transform="rotate(439.5 191.06 277.61)">60</text>
<line x1="205.08" y1="279.47" x2="204.93" y2="277.27" stroke="#333" stroke-width="0.5"/>
<text x="204.84" y="275.88" font-size="2.4" fill="#555" text-anchor="end" dominant-baseline="central" transform="rotate(446.1 204.84 275.88)">70</text>
<text x="256.98" y="291.19" font-size="8.2" font-weight="bold" fill="#000" text-anchor="middle" dominant-baseline="central" transform="rotate(22.7 256.98 291.19)">Chr1</text>
<text x="324.56" y="373.50" font-size="8.2" font-weight="bold" fill="#000" text-anchor="middle" dominant-baseline="central" transform="rotate(78.5 324.56 373.50)">Chr2</text>
<text x="302.59" y="466.45" font-size="8.2" font-weight="bold" fill="#000" text-anchor="middle" dominant-baseline="central" transform="rotate(-51.9 302.59 466.45)">Chr3</text>
<text x="231.69" y="508.50" font-size="8.2" font-weight="bold" fill="#000" text-anchor="middle" dominant-baseline="central" transform="rotate(-9.5 231.69 508.50)">Chr4</text>
<text x="130.42" y="474.57" font-size="8.2" font-weight="bold" fill="#000" text-anchor="middle" dominant-baseline="central" transform="rotate(46.5 130.42 474.57)">Chr5</text>
<text x="102.16" y="370.20" font-size="8.2" font-weight="bold" fill="#000" text-anchor="middle" dominant-baseline="central" transform="rotate(283.2 102.16 370.20)">Chr6</text>
<text x="161.62" y="294.60" font-size="8.2" font-weight="bold" fill="#000" text-anchor="middle" dominant-baseline="central" transform="rotate(333.2 161.62 294.60)">Chr7</text>
<polyline points="261.57,289.43 263.10,286.06 263.63,283.01" fill="none" stroke="#f0a090" stroke-width="0.35"/>
<text x="264.25" y="281.64" font-size="4" font-weight="bold" fill="#ee3a26" stroke="#ee3a26" stroke-width="0.32" text-anchor="start" dominant-baseline="central" transform="rotate(-65.9 264.25 281.64)">RcSWEET17a</text>
<polyline points="268.54,292.88 270.29,289.62 271.60,286.92" fill="none" stroke="#f0a090" stroke-width="0.35"/>
<text x="272.31" y="285.60" font-size="4" font-weight="bold" fill="#ee3a26" stroke="#ee3a26" stroke-width="0.32" text-anchor="start" dominant-baseline="central" transform="rotate(-61.8 272.31 285.60)">RcSWEET5f</text>
<polyline points="279.15,299.33 281.24,296.28 282.90,292.57" fill="none" stroke="#f0a090" stroke-width="0.35"/>
<text x="283.74" y="291.33" font-size="4" font-weight="bold" fill="#ee3a26" stroke="#ee3a26" stroke-width="0.32" text-anchor="start" dominant-baseline="central" transform="rotate(-56.0 283.74 291.33)">RcSWEET5g</text>
<polyline points="279.15,299.33 281.24,296.28 285.77,294.56" fill="none" stroke="#f0a090" stroke-width="0.35"/>
<text x="286.64" y="293.34" font-size="4" font-weight="bold" fill="#ee3a26" stroke="#ee3a26" stroke-width="0.32" text-anchor="start" dominant-baseline="central" transform="rotate(-54.4 286.64 293.34)">RcSWEET5h</text>
<polyline points="294.38,311.73 296.95,309.06 298.67,306.55" fill="none" stroke="#f0a090" stroke-width="0.35"/>
<text x="299.71" y="305.47" font-size="4" font-weight="bold" fill="#ee3a26" stroke="#ee3a26" stroke-width="0.32" text-anchor="start" dominant-baseline="central" transform="rotate(-46.3 299.71 305.47)">RcSWEET3</text>
<polyline points="330.25,399.66 333.95,399.77 336.90,401.18" fill="none" stroke="#f0a090" stroke-width="0.35"/>
<text x="338.40" y="401.24" font-size="4" font-weight="bold" fill="#ee3a26" stroke="#ee3a26" stroke-width="0.32" text-anchor="start" dominant-baseline="central" transform="rotate(2.3 338.40 401.24)">RcSWEET5c</text>
<polyline points="326.26,426.72 329.83,427.69 332.55,429.13" fill="none" stroke="#f0a090" stroke-width="0.35"/>
<text x="333.99" y="429.53" font-size="4" font-weight="bold" fill="#ee3a26" stroke="#ee3a26" stroke-width="0.32" text-anchor="start" dominant-baseline="central" transform="rotate(15.4 333.99 429.53)">RcSWEET4a</text>
<polyline points="250.39,507.38 251.57,510.89 250.55,513.85" fill="none" stroke="#f0a090" stroke-width="0.35"/>
<text x="251.00" y="515.28" font-size="4" font-weight="bold" fill="#ee3a26" stroke="#ee3a26" stroke-width="0.32" text-anchor="start" dominant-baseline="central" transform="rotate(72.3 251.00 515.28)">RcSWEET15b</text>
<polyline points="227.33,512.62 227.78,516.29 226.34,518.98" fill="none" stroke="#f0a090" stroke-width="0.35"/>
<text x="226.50" y="520.47" font-size="4" font-weight="bold" fill="#ee3a26" stroke="#ee3a26" stroke-width="0.32" text-anchor="start" dominant-baseline="central" transform="rotate(83.8 226.50 520.47)">RcSWEET5e</text>
<polyline points="213.37,513.50 213.38,517.20 211.71,519.69" fill="none" stroke="#f0a090" stroke-width="0.35"/>
<text x="211.69" y="521.19" font-size="4" font-weight="bold" fill="#ee3a26" stroke="#ee3a26" stroke-width="0.32" text-anchor="end" dominant-baseline="central" transform="rotate(270.6 211.69 521.19)">RcSWEET17b</text>
<polyline points="205.44,513.26 205.20,516.95 202.88,519.28" fill="none" stroke="#f0a090" stroke-width="0.35"/>
<text x="202.76" y="520.78" font-size="4" font-weight="bold" fill="#ee3a26" stroke="#ee3a26" stroke-width="0.32" text-anchor="end" dominant-baseline="central" transform="rotate(274.7 202.76 520.78)">RcSWEET15a</text>
<polyline points="168.49,504.73 167.09,508.15 166.62,510.99" fill="none" stroke="#f0a090" stroke-width="0.35"/>
<text x="166.06" y="512.38" font-size="4" font-weight="bold" fill="#ee3a26" stroke="#ee3a26" stroke-width="0.32" text-anchor="end" dominant-baseline="central" transform="rotate(292.0 166.06 512.38)">RcSWEET2a</text>
<polyline points="151.25,495.93 149.30,499.07 148.31,501.76" fill="none" stroke="#f0a090" stroke-width="0.35"/>
<text x="147.53" y="503.04" font-size="4" font-weight="bold" fill="#ee3a26" stroke="#ee3a26" stroke-width="0.32" text-anchor="end" dominant-baseline="central" transform="rotate(301.5 147.53 503.04)">RcSWEET2b</text>
<polyline points="99.30,425.04 95.71,425.95 92.93,426.36" fill="none" stroke="#f0a090" stroke-width="0.35"/>
<text x="91.48" y="426.72" font-size="4" font-weight="bold" fill="#ee3a26" stroke="#ee3a26" stroke-width="0.32" text-anchor="end" dominant-baseline="central" transform="rotate(345.9 91.48 426.72)">RcSWEET5b</text>
<polyline points="100.49,363.01 96.94,361.97 93.98,361.40" fill="none" stroke="#f0a090" stroke-width="0.35"/>
<text x="92.54" y="360.98" font-size="4" font-weight="bold" fill="#ee3a26" stroke="#ee3a26" stroke-width="0.32" text-anchor="end" dominant-baseline="central" transform="rotate(376.3 92.54 360.98)">RcSWEET1</text>
<polyline points="108.17,343.56 104.87,341.90 101.28,341.71" fill="none" stroke="#f0a090" stroke-width="0.35"/>
<text x="99.93" y="341.05" font-size="4" font-weight="bold" fill="#ee3a26" stroke="#ee3a26" stroke-width="0.32" text-anchor="end" dominant-baseline="central" transform="rotate(386.0 99.93 341.05)">RcSWEET9</text>
<polyline points="108.17,343.56 104.87,341.90 102.54,339.19" fill="none" stroke="#f0a090" stroke-width="0.35"/>
<text x="101.21" y="338.50" font-size="4" font-weight="bold" fill="#ee3a26" stroke="#ee3a26" stroke-width="0.32" text-anchor="end" dominant-baseline="central" transform="rotate(387.3 101.21 338.50)">RcSWEET11b</text>
<polyline points="108.17,343.56 104.87,341.90 103.87,336.70" fill="none" stroke="#f0a090" stroke-width="0.35"/>
<text x="102.55" y="335.98" font-size="4" font-weight="bold" fill="#ee3a26" stroke="#ee3a26" stroke-width="0.32" text-anchor="end" dominant-baseline="central" transform="rotate(388.6 102.55 335.98)">RcSWEET11a</text>
<polyline points="108.17,343.56 104.87,341.90 73.69,326.44" fill="none" stroke="#f0a090" stroke-width="0.35"/>
<text x="72.35" y="325.77" font-size="4" font-weight="bold" fill="#ee3a26" stroke="#ee3a26" stroke-width="0.32" text-anchor="end" dominant-baseline="central" transform="rotate(386.6 72.35 325.77)">RcSWEET10c</text>
<polyline points="108.17,343.56 104.87,341.90 75.31,323.30" fill="none" stroke="#f0a090" stroke-width="0.35"/>
<text x="73.98" y="322.59" font-size="4" font-weight="bold" fill="#ee3a26" stroke="#ee3a26" stroke-width="0.32" text-anchor="end" dominant-baseline="central" transform="rotate(387.9 73.98 322.59)">RcSWEET10b</text>
<polyline points="128.43,314.92 125.76,312.36 122.33,310.16" fill="none" stroke="#f0a090" stroke-width="0.35"/>
<text x="121.24" y="309.12" font-size="4" font-weight="bold" fill="#ee3a26" stroke="#ee3a26" stroke-width="0.32" text-anchor="end" dominant-baseline="central" transform="rotate(403.5 121.24 309.12)">RcSWEET4b</text>
<polyline points="129.84,313.47 127.22,310.86 124.92,307.50" fill="none" stroke="#f0a090" stroke-width="0.35"/>
<text x="123.86" y="306.44" font-size="4" font-weight="bold" fill="#ee3a26" stroke="#ee3a26" stroke-width="0.32" text-anchor="end" dominant-baseline="central" transform="rotate(405.2 123.86 306.44)">RcSWEET12</text>
<polyline points="129.84,313.47 127.22,310.86 127.59,304.93" fill="none" stroke="#f0a090" stroke-width="0.35"/>
<text x="126.57" y="303.83" font-size="4" font-weight="bold" fill="#ee3a26" stroke="#ee3a26" stroke-width="0.32" text-anchor="end" dominant-baseline="central" transform="rotate(406.9 126.57 303.83)">RcSWEET10a</text>
<polyline points="132.55,310.83 130.02,308.14 130.34,302.44" fill="none" stroke="#f0a090" stroke-width="0.35"/>
<text x="129.34" y="301.31" font-size="4" font-weight="bold" fill="#ee3a26" stroke="#ee3a26" stroke-width="0.32" text-anchor="end" dominant-baseline="central" transform="rotate(408.6 129.34 301.31)">RcSWEET5a</text>
<polyline points="132.55,310.83 130.02,308.14 107.94,281.15" fill="none" stroke="#f0a090" stroke-width="0.35"/>
<text x="106.93" y="280.04" font-size="4" font-weight="bold" fill="#ee3a26" stroke="#ee3a26" stroke-width="0.32" text-anchor="end" dominant-baseline="central" transform="rotate(407.6 106.93 280.04)">RcSWEET5d</text>
</svg></body></html>
